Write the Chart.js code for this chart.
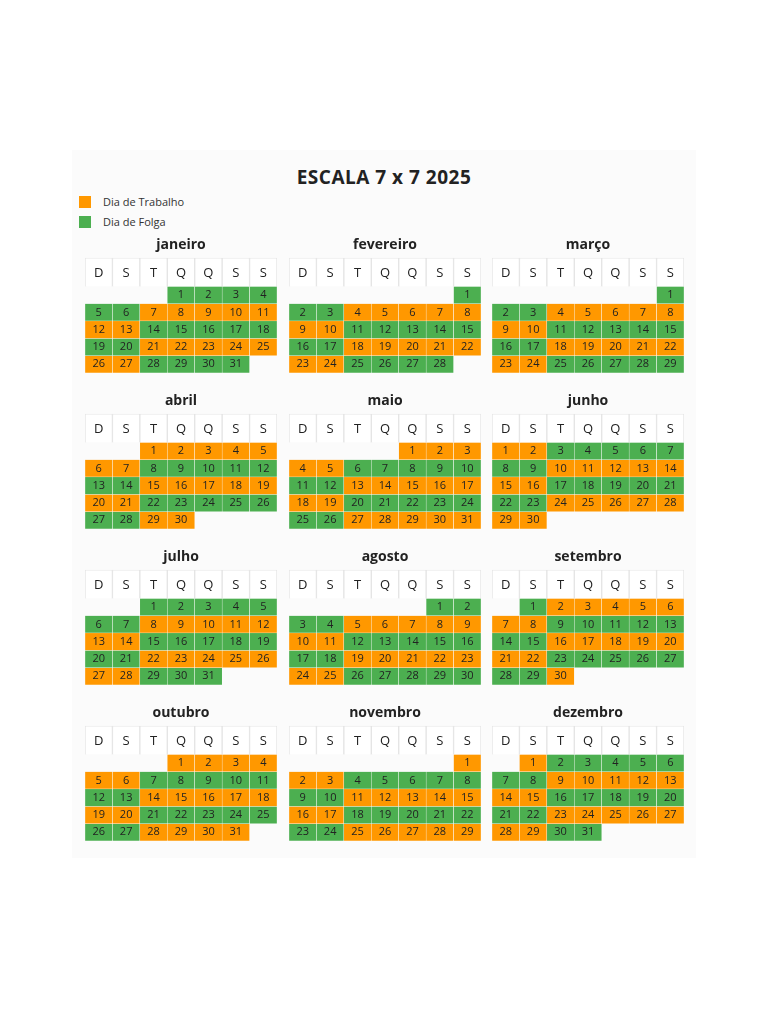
<!DOCTYPE html>
<html>
<head>
<meta charset="utf-8">
<script src="https://cdn.jsdelivr.net/npm/chart.js@4/dist/chart.umd.min.js"></script>
<style>
  body{margin:0;background:#fff;font-family:"Open Sans","Noto Sans",sans-serif;}
  #page{position:relative;width:768px;height:1024px;}
  #card{position:absolute;left:72px;top:150px;width:624px;height:708px;background:#fbfbfb;}
  #title{position:absolute;left:0;width:768px;top:164px;text-align:center;font-weight:bold;font-size:19px;color:#222;letter-spacing:.5px;}
  .leg{position:absolute;left:79px;font-size:11px;color:#333;}
  .leg span{display:inline-block;width:12px;height:12px;vertical-align:-2px;margin-right:12px;}
  canvas{position:absolute;}
</style>
</head>
<body>
<div id="page">
  <div id="card"></div>
  <div id="title">ESCALA 7 x 7 2025</div>
  <div class="leg" style="top:194px"><span style="background:#FF9800"></span>Dia de Trabalho</div>
  <div class="leg" style="top:214px"><span style="background:#4CAF50"></span>Dia de Folga</div>
</div>
<script>
const weekdays = ['D','S','T','Q','Q','S','S'];
const monthNames = ['janeiro','fevereiro','março','abril','maio','junho',
                    'julho','agosto','setembro','outubro','novembro','dezembro'];
// first weekday of each month (0 = domingo)
const firstDay = [3,6,6,2,4,0,2,5,1,3,6,1];
// one letter per day as shown: T = trabalho, F = folga
const jan = 'FFFFFFTTTTTTTFFFFFFFTTTTTTTFFFF';
const feb = 'FFFTTTTTTTFFFFFFFTTTTTTTFFFF';
const mar = 'FFFTTTTTTTFFFFFFFTTTTTTTFFFFF';
const apr = 'TTTTTTTFFFFFFFTTTTTTTFFFFFFFTT';
const may = 'TTTTTFFFFFFFTTTTTTTFFFFFFFTTTTT';
const jun = 'TTFFFFFFFTTTTTTTFFFFFFFTTTTTTT';
const jul = 'FFFFFFFTTTTTTTFFFFFFFTTTTTTTFFF';
const aug = 'FFFFTTTTTTTFFFFFFFTTTTTTTFFFFF';
const sep = 'FTTTTTTTFFFFFFFTTTTTTTFFFFFFFT';
const oct = 'TTTTTTFFFFFFFTTTTTTTFFFFFFFTTTT';
const nov = 'TTTFFFFFFFTTTTTTTFFFFFFFTTTTT';
const dec = 'TFFFFFFFTTTTTTTFFFFFFFTTTTTTTFF';
const months = [jan,feb,mar,apr,may,jun,jul,aug,sep,oct,nov,dec];

const COLORS = {T:'#FF9800', F:'#4CAF50'};
const colX = [85,289,492];
const rowY = [237,393,549,705];
const HEAD = -1.65;

const labelPlugin = {
  id:'cellLabels',
  afterDatasetsDraw(chart){
    const ctx = chart.ctx;
    ctx.save();
    ctx.textAlign='center'; ctx.textBaseline='middle';
    chart.data.datasets.forEach((ds,di)=>{
      const meta = chart.getDatasetMeta(di);
      ctx.font = di===0 ? '13px "Open Sans",sans-serif' : '11px "Open Sans",sans-serif';
      ctx.fillStyle = '#222';
      meta.data.forEach((el,i)=>{
        if(ds.data[i]==null) return;
        ctx.fillText(ds.labels[i], el.x, (el.y+el.base)/2+ (di===0?1:0));
      });
    });
    ctx.restore();
  }
};

months.forEach((days,m)=>{
  const cv = document.createElement('canvas');
  cv.style.left = colX[m%3]+'px';
  cv.style.top = rowY[Math.floor(m/3)]+'px';
  cv.style.width='192px'; cv.style.height='136px';
  document.getElementById('page').appendChild(cv);

  const datasets = [{
    data: weekdays.map(()=>[HEAD,0]), labels: weekdays,
    backgroundColor:'#fff', borderColor:'#e4e4e4', borderWidth:1,
    grouped:false, barPercentage:1, categoryPercentage:1
  }];
  const rows = Math.ceil((firstDay[m]+days.length)/7);
  for(let r=0;r<rows;r++){
    const data=[], labels=[], bg=[];
    for(let c=0;c<7;c++){
      const d = r*7+c-firstDay[m];
      if(d>=0 && d<days.length){
        data.push([r,r+1]); labels.push(String(d+1)); bg.push(COLORS[days[d]]);
      } else { data.push(null); labels.push(''); bg.push('#fff'); }
    }
    datasets.push({data,labels,backgroundColor:bg,borderColor:'#fbfbfb',borderWidth:0.5,
      grouped:false,barPercentage:1,categoryPercentage:1});
  }

  new Chart(cv,{
    type:'bar',
    data:{labels:weekdays.map((w,i)=>i),datasets},
    options:{
      responsive:false, animation:false, maintainAspectRatio:false,
      layout:{padding:0},
      plugins:{
        legend:{display:false}, tooltip:{enabled:false},
        title:{display:true,text:monthNames[m],color:'#222',
          font:{size:14,weight:'bold',family:'"Open Sans",sans-serif'},padding:{top:0,bottom:4}}
      },
      scales:{
        x:{display:false},
        y:{display:false,reverse:true,min:HEAD,max:5}
      }
    },
    plugins:[labelPlugin]
  });
  cv.style.width='192px'; cv.style.height='136px';
});
</script>
</body>
</html>
